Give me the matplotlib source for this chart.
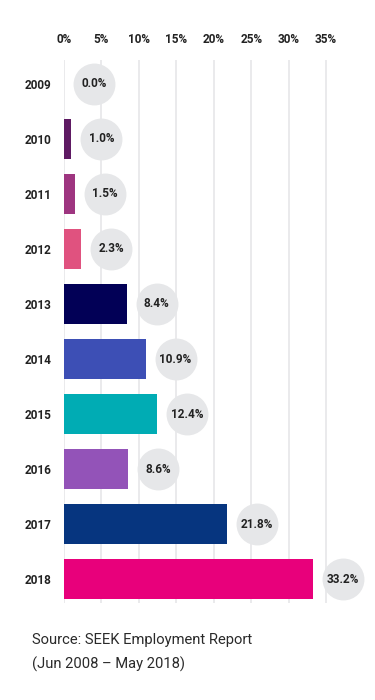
import matplotlib.pyplot as plt

# Data
years = ['2009', '2010', '2011', '2012', '2013', '2014', '2015', '2016', '2017', '2018']
shares = [0.0, 1.0, 1.5, 2.3, 8.4, 10.9, 12.4, 8.6, 21.8, 33.2]
bar_colors = ['#5e1a63', '#5e1a63', '#9e3580', '#e0527f', '#020056',
              '#3d4fb5', '#00acb4', '#9353b8', '#06357f', '#e8007b']
ticks = [0, 5, 10, 15, 20, 25, 30, 35]
tick_labels = [f'{t}%' for t in ticks]

plt.rcParams['font.family'] = ['Roboto', 'DejaVu Sans']

fig = plt.figure(figsize=(3.75, 7), dpi=100)
ax = fig.add_axes([64 / 375, 97 / 700, 307 / 375, 543 / 700])

pos = list(range(len(years)))
ax.barh(pos, shares, height=0.73, color=bar_colors, zorder=2)

# grey bubbles with the value, just past the end of each bar
for y, v in zip(pos, shares):
    ax.scatter(v + 4.0, y, s=910, color='#e6e7e9', zorder=3, linewidths=0)
    ax.text(v + 4.0, y, f'{v:.1f}%', ha='center', va='center',
            fontsize=8.5, fontweight='bold', color='#222222', zorder=4)

ax.set_xlim(0, 41)
ax.set_ylim(9.436, -0.436)
ax.set_xticks(ticks)
ax.set_xticklabels(tick_labels, fontsize=8.5, fontweight='bold', color='#222222')
ax.xaxis.tick_top()
ax.set_yticks(pos)
ax.set_yticklabels(years, fontsize=8.5, fontweight='bold', color='#222222')
ax.tick_params(axis='y', length=0, pad=9)
ax.tick_params(axis='x', length=0, pad=10)

ax.grid(axis='x', color='#e8e8ea', linewidth=1.3, zorder=0)
for side in ax.spines.values():
    side.set_visible(False)

fig.text(32 / 375, 1 - 640 / 700, 'Source: SEEK Employment Report',
         fontsize=10.6, color='#2a2a2a', va='center')
fig.text(32 / 375, 1 - 664 / 700, '(Jun 2008 \u2013 May 2018)',
         fontsize=10.6, color='#2a2a2a', va='center')

fig.savefig('out.png', dpi=100)
